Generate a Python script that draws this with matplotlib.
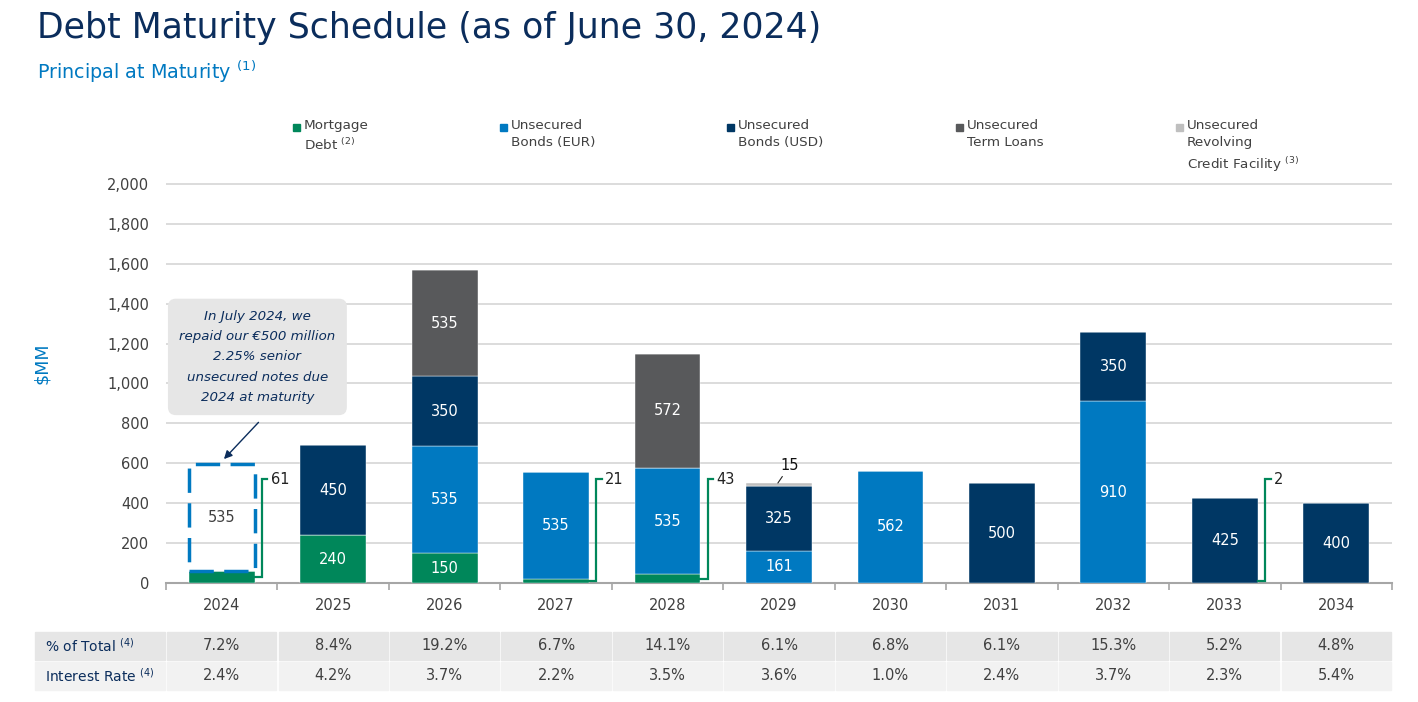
import matplotlib
matplotlib.use("Agg")
import matplotlib.pyplot as plt
import matplotlib.transforms as mtransforms
from matplotlib.patches import Rectangle
import numpy as np

plt.rcParams['font.family'] = ['DejaVu Sans']

# data
years = ["2024", "2025", "2026", "2027", "2028", "2029",
         "2030", "2031", "2032", "2033", "2034"]
mortgage = [61, 240, 150, 21, 43, 0, 0, 0, 0, 2, 0]
bonds_eur = [0, 0, 535, 535, 535, 161, 562, 0, 910, 0, 0]
bonds_usd = [0, 450, 350, 0, 0, 325, 0, 500, 350, 425, 400]
term_loans = [0, 0, 535, 0, 572, 0, 0, 0, 0, 0, 0]
revolver = [0, 0, 0, 0, 0, 15, 0, 0, 0, 0, 0]
repaid_eur = [535, 0, 0, 0, 0, 0, 0, 0, 0, 0, 0]

pct_total = ["7.2%", "8.4%", "19.2%", "6.7%", "14.1%", "6.1%",
             "6.8%", "6.1%", "15.3%", "5.2%", "4.8%"]
interest_rate = ["2.4%", "4.2%", "3.7%", "2.2%", "3.5%", "3.6%",
                 "1.0%", "2.4%", "3.7%", "2.3%", "5.4%"]

series = [
    ("Mortgage\nDebt $^{(2)}$", mortgage, "#00875a"),
    ("Unsecured\nBonds (EUR)", bonds_eur, "#0079c1"),
    ("Unsecured\nBonds (USD)", bonds_usd, "#003764"),
    ("Unsecured\nTerm Loans", term_loans, "#58595b"),
    ("Unsecured\nRevolving\nCredit Facility $^{(3)}$", revolver, "#bfbfbf"),
]

NAVY = "#0b2d5c"
BLUE = "#0079c1"
TXT = "#404040"
W, H = 1418, 702

fig = plt.figure(figsize=(W / 100, H / 100), dpi=100)
ax = fig.add_axes([166 / W, 1 - 583 / H, 1226 / W, (583 - 144) / H])

x = np.arange(len(years))
bw = 0.59
bottom = np.zeros(len(years))
for name, vals, col in series:
    vals = np.array(vals, dtype=float)
    ax.bar(x, vals, bw, bottom=bottom, color=col, edgecolor="white",
           linewidth=0.3, zorder=3)
    for i, v in enumerate(vals):
        if v >= 100:
            ax.text(i, bottom[i] + v / 2, f"{v:.0f}", ha="center", va="center",
                    color="white", fontsize=10.5, zorder=5)
    bottom += vals

# repaid EUR notes (dashed outline)
rep = np.array(repaid_eur, dtype=float)
mort = np.array(mortgage, dtype=float)
for i, v in enumerate(rep):
    if v > 0:
        ax.bar(i, v, bw, bottom=mort[i], fill=False, edgecolor=BLUE,
               linewidth=2.5, linestyle=(0, (7, 3)), zorder=4)
        ax.text(i, mort[i] + v / 2, f"{v:.0f}", ha="center", va="center",
                color=TXT, fontsize=10.5, zorder=5)

# brackets for small mortgage amounts
br_top = 520
for i, m in enumerate(mortgage):
    if 0 < m < 100:
        y0 = max(m / 2, 12)
        xe = i + bw / 2
        ax.plot([xe, i + 0.36, i + 0.36, i + 0.41], [y0, y0, br_top, br_top],
                color="#00875a", lw=1.6, zorder=4, solid_joinstyle="miter")
        ax.text(i + 0.44, br_top, f"{m}", ha="left", va="center",
                color="#222222", fontsize=10.5)

# revolver label with leader
for i, r in enumerate(revolver):
    if r > 0:
        top = bottom[i]
        ax.annotate(f"{r}", xy=(i - 0.01, top), xytext=(i + 0.1, top + 90),
                    ha="center", va="center", fontsize=10.5, color="#111111",
                    arrowprops=dict(arrowstyle="-", color="#222222", lw=0.8,
                                    shrinkA=1, shrinkB=0))

# callout box
top0 = mort[0] + rep[0]
ax.text(0.32, 1133, "In July 2024, we\nrepaid our €500 million\n2.25% senior\n"
        "unsecured notes due\n2024 at maturity",
        ha="center", va="center", style="italic", fontsize=9.6, color=NAVY,
        linespacing=1.72, zorder=6,
        bbox=dict(boxstyle="round,pad=0.85,rounding_size=0.6", fc="#e6e6e6",
                  ec="none"))
ax.annotate("", xy=(0.02, top0 + 25), xytext=(0.33, 805),
            arrowprops=dict(arrowstyle="-|>", color=NAVY, lw=1,
                            mutation_scale=12, shrinkA=0, shrinkB=0))

# axes styling
ax.set_xlim(-0.5, len(years) - 0.5)
ax.set_ylim(0, 2200)
ax.set_yticks(np.arange(0, 2001, 200))
ax.set_yticklabels([f"{v:,}" for v in range(0, 2001, 200)])
ax.set_xticks(x)
ax.set_xticklabels(years)
ax.set_xticks(np.arange(-0.5, len(years)), minor=True)
ax.tick_params(axis="x", which="major", length=0, pad=11, labelsize=10.5,
               labelcolor=TXT)
ax.tick_params(axis="x", which="minor", length=5, width=1.2, color="#a6a6a6")
ax.tick_params(axis="y", length=0, pad=12, labelsize=10.5, labelcolor=TXT)
for s in ["top", "right", "left"]:
    ax.spines[s].set_visible(False)
ax.spines["bottom"].set_color("#a6a6a6")
ax.spines["bottom"].set_linewidth(1.5)
for v in range(200, 2001, 200):
    ax.axhline(v, color="#d9d9d9", lw=1.3, zorder=0)
ax.set_ylabel(r"\$MM", color=BLUE, fontsize=12.5)
ax.yaxis.set_label_coords(-0.094, 0.5)

# titles
fig.text(37 / W, 1 - 38 / H, "Debt Maturity Schedule (as of June 30, 2024)",
         fontsize=25, color=NAVY, va="baseline")
fig.text(37 / W, 1 - 79 / H, "Principal at Maturity $^{(1)}$",
         fontsize=13.8, color=BLUE, va="baseline")

# legend
leg_x = [293, 500, 727, 956, 1176]
for (name, vals, col), lx in zip(series, leg_x):
    fig.patches.append(Rectangle((lx / W, 1 - 131 / H), 7 / W, 7 / H,
                                 transform=fig.transFigure, color=col))
    fig.text((lx + 11) / W, 1 - 119 / H, name, fontsize=9.7, color=TXT,
             va="top", ha="left", linespacing=1.42)

# table under the chart
tr = mtransforms.blended_transform_factory(ax.transData, fig.transFigure)
x_left = -0.5 - 131 / 111.45
rows = [("% of Total $^{(4)}$", pct_total, "#e6e6e6", 660, 632),
        ("Interest Rate $^{(4)}$", interest_rate, "#f2f2f2", 690, 662)]
g = 0.01
for label, vals, bg, yb, yt in rows:
    y0, y1 = 1 - yb / H, 1 - yt / H
    ax.add_patch(Rectangle((x_left, y0), -0.5 - g - x_left, y1 - y0,
                           transform=tr, color=bg, clip_on=False))
    ax.text(x_left + 0.09, (y0 + y1) / 2, label, transform=tr, ha="left",
            va="center", fontsize=10, color=NAVY)
    for i, v in enumerate(vals):
        ax.add_patch(Rectangle((i - 0.5 + g, y0), 1 - 2 * g, y1 - y0,
                               transform=tr, color=bg, clip_on=False))
        ax.text(i, (y0 + y1) / 2, v, transform=tr, ha="center", va="center",
                fontsize=10.5, color=TXT)

fig.savefig("out.png", dpi=100)
plt.close(fig)
